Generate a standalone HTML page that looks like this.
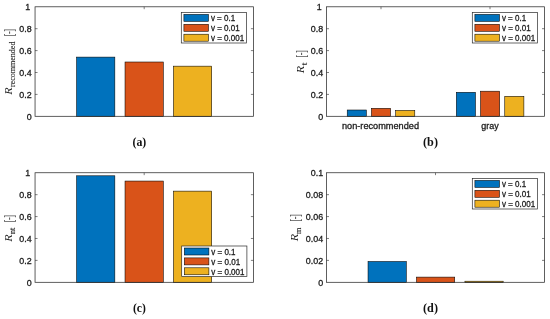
<!DOCTYPE html>
<html><head><meta charset="utf-8"><title>Figure</title>
<style>
html,body{margin:0;padding:0;background:#fff;}
svg{display:block;}
.t{font-family:"Liberation Sans","DejaVu Sans",sans-serif;font-size:8.9px;fill:#1c1c1c;stroke:#1c1c1c;stroke-width:0.3px;}
.cap{font-family:"Liberation Serif","DejaVu Serif",serif;font-weight:bold;font-size:11.6px;fill:#111;}
.ri{font-family:"Liberation Serif","DejaVu Serif",serif;font-style:italic;font-size:11.2px;fill:#222;}
.sub{font-family:"Liberation Serif","DejaVu Serif",serif;font-size:8px;fill:#222;stroke:#222;stroke-width:0.12px;}
.br{font-family:"Liberation Sans","DejaVu Sans",sans-serif;font-size:12px;fill:#555;}
</style></head>
<body>
<svg width="550" height="319" viewBox="0 0 550 319">
<rect width="550" height="319" fill="#fff"/>
<path d="M144.2 116.3v-2.4" stroke="#2a2a2a" stroke-width="0.6" fill="none"/>
<rect x="76.58" y="57.10" width="38.26" height="59.20" fill="#0072BD" stroke="#000" stroke-width="0.55"/>
<rect x="125.02" y="62.00" width="38.26" height="54.30" fill="#D95319" stroke="#000" stroke-width="0.55"/>
<rect x="173.46" y="66.15" width="38.26" height="50.15" fill="#EDB120" stroke="#000" stroke-width="0.55"/>
<rect x="35.05" y="6.8" width="218.35" height="109.50" fill="none" stroke="#2a2a2a" stroke-width="0.75"/>
<text x="31.65" y="119.55" text-anchor="end" class="t">0</text>
<path d="M35.05 94.40h2.5M253.4 94.40h-2.5" stroke="#2a2a2a" stroke-width="0.6" fill="none"/>
<text x="31.65" y="97.65" text-anchor="end" class="t">0.2</text>
<path d="M35.05 72.50h2.5M253.4 72.50h-2.5" stroke="#2a2a2a" stroke-width="0.6" fill="none"/>
<text x="31.65" y="75.75" text-anchor="end" class="t">0.4</text>
<path d="M35.05 50.60h2.5M253.4 50.60h-2.5" stroke="#2a2a2a" stroke-width="0.6" fill="none"/>
<text x="31.65" y="53.85" text-anchor="end" class="t">0.6</text>
<path d="M35.05 28.70h2.5M253.4 28.70h-2.5" stroke="#2a2a2a" stroke-width="0.6" fill="none"/>
<text x="31.65" y="31.95" text-anchor="end" class="t">0.8</text>
<text x="30.15" y="10.05" text-anchor="end" class="t">1</text>
<path d="M144.2 6.8v2.4" stroke="#2a2a2a" stroke-width="0.6" fill="none"/>
<rect x="181.3" y="12.4" width="65.2" height="30.6" fill="#fff" stroke="#2a2a2a" stroke-width="0.7"/>
<rect x="183.9" y="14.40" width="24.6" height="7" fill="#0072BD" stroke="#000" stroke-width="0.55"/>
<text x="210.9" y="21.10" class="t" textLength="24.2" lengthAdjust="spacingAndGlyphs">v = 0.1</text>
<rect x="183.9" y="24.30" width="24.6" height="7" fill="#D95319" stroke="#000" stroke-width="0.55"/>
<text x="210.9" y="31.00" class="t" textLength="28.8" lengthAdjust="spacingAndGlyphs">v = 0.01</text>
<rect x="183.9" y="34.20" width="24.6" height="7" fill="#EDB120" stroke="#000" stroke-width="0.55"/>
<text x="210.9" y="40.90" class="t" textLength="33.2" lengthAdjust="spacingAndGlyphs">v = 0.001</text>
<g transform="translate(12.2 94.4) rotate(-90)"><text x="-0.3" y="0" class="ri" textLength="7.4" lengthAdjust="spacingAndGlyphs">R</text><text x="7.3" y="2.9" class="sub" textLength="45.50" lengthAdjust="spacingAndGlyphs">recommended</text><text x="58.2" y="1.0" class="br" textLength="7.4" lengthAdjust="spacingAndGlyphs">[-]</text></g>
<path d="M381.0 116.3v-2.4" stroke="#2a2a2a" stroke-width="0.6" fill="none"/>
<path d="M490.0 116.3v-2.4" stroke="#2a2a2a" stroke-width="0.6" fill="none"/>
<rect x="347.22" y="110.00" width="19.13" height="6.30" fill="#0072BD" stroke="#000" stroke-width="0.55"/>
<rect x="371.44" y="108.30" width="19.13" height="8.00" fill="#D95319" stroke="#000" stroke-width="0.55"/>
<rect x="395.66" y="110.40" width="19.13" height="5.90" fill="#EDB120" stroke="#000" stroke-width="0.55"/>
<rect x="456.32" y="92.30" width="19.13" height="24.00" fill="#0072BD" stroke="#000" stroke-width="0.55"/>
<rect x="480.54" y="91.20" width="19.13" height="25.10" fill="#D95319" stroke="#000" stroke-width="0.55"/>
<rect x="504.76" y="96.30" width="19.13" height="20.00" fill="#EDB120" stroke="#000" stroke-width="0.55"/>
<rect x="326.5" y="6.8" width="218.00" height="109.50" fill="none" stroke="#2a2a2a" stroke-width="0.75"/>
<text x="323.10" y="119.55" text-anchor="end" class="t">0</text>
<path d="M326.5 94.40h2.5M544.5 94.40h-2.5" stroke="#2a2a2a" stroke-width="0.6" fill="none"/>
<text x="323.10" y="97.65" text-anchor="end" class="t">0.2</text>
<path d="M326.5 72.50h2.5M544.5 72.50h-2.5" stroke="#2a2a2a" stroke-width="0.6" fill="none"/>
<text x="323.10" y="75.75" text-anchor="end" class="t">0.4</text>
<path d="M326.5 50.60h2.5M544.5 50.60h-2.5" stroke="#2a2a2a" stroke-width="0.6" fill="none"/>
<text x="323.10" y="53.85" text-anchor="end" class="t">0.6</text>
<path d="M326.5 28.70h2.5M544.5 28.70h-2.5" stroke="#2a2a2a" stroke-width="0.6" fill="none"/>
<text x="323.10" y="31.95" text-anchor="end" class="t">0.8</text>
<text x="321.60" y="10.05" text-anchor="end" class="t">1</text>
<path d="M381.0 6.8v2.4" stroke="#2a2a2a" stroke-width="0.6" fill="none"/>
<path d="M490.0 6.8v2.4" stroke="#2a2a2a" stroke-width="0.6" fill="none"/>
<text x="380.5" y="128.75" text-anchor="middle" class="t" textLength="77" lengthAdjust="spacingAndGlyphs">non-recommended</text>
<text x="490" y="128.75" text-anchor="middle" class="t" textLength="17.4" lengthAdjust="spacingAndGlyphs">gray</text>
<rect x="472.3" y="12.4" width="65.2" height="30.6" fill="#fff" stroke="#2a2a2a" stroke-width="0.7"/>
<rect x="474.90000000000003" y="14.40" width="24.6" height="7" fill="#0072BD" stroke="#000" stroke-width="0.55"/>
<text x="501.90000000000003" y="21.10" class="t" textLength="24.2" lengthAdjust="spacingAndGlyphs">v = 0.1</text>
<rect x="474.90000000000003" y="24.30" width="24.6" height="7" fill="#D95319" stroke="#000" stroke-width="0.55"/>
<text x="501.90000000000003" y="31.00" class="t" textLength="28.8" lengthAdjust="spacingAndGlyphs">v = 0.01</text>
<rect x="474.90000000000003" y="34.20" width="24.6" height="7" fill="#EDB120" stroke="#000" stroke-width="0.55"/>
<text x="501.90000000000003" y="40.90" class="t" textLength="33.2" lengthAdjust="spacingAndGlyphs">v = 0.001</text>
<g transform="translate(303.7 72.9) rotate(-90)"><text x="-0.3" y="0" class="ri" textLength="7.4" lengthAdjust="spacingAndGlyphs">R</text><text x="7.4" y="2.9" class="sub" textLength="2.90" lengthAdjust="spacingAndGlyphs">t</text><text x="15.3" y="1.0" class="br" textLength="7.4" lengthAdjust="spacingAndGlyphs">[-]</text></g>
<path d="M144.2 282.3v-2.4" stroke="#2a2a2a" stroke-width="0.6" fill="none"/>
<rect x="76.58" y="175.80" width="38.26" height="106.50" fill="#0072BD" stroke="#000" stroke-width="0.55"/>
<rect x="125.02" y="181.05" width="38.26" height="101.25" fill="#D95319" stroke="#000" stroke-width="0.55"/>
<rect x="173.46" y="191.12" width="38.26" height="91.18" fill="#EDB120" stroke="#000" stroke-width="0.55"/>
<rect x="35.05" y="172.75" width="218.35" height="109.55" fill="none" stroke="#2a2a2a" stroke-width="0.75"/>
<text x="31.65" y="285.55" text-anchor="end" class="t">0</text>
<path d="M35.05 260.39h2.5M253.4 260.39h-2.5" stroke="#2a2a2a" stroke-width="0.6" fill="none"/>
<text x="31.65" y="263.64" text-anchor="end" class="t">0.2</text>
<path d="M35.05 238.48h2.5M253.4 238.48h-2.5" stroke="#2a2a2a" stroke-width="0.6" fill="none"/>
<text x="31.65" y="241.73" text-anchor="end" class="t">0.4</text>
<path d="M35.05 216.57h2.5M253.4 216.57h-2.5" stroke="#2a2a2a" stroke-width="0.6" fill="none"/>
<text x="31.65" y="219.82" text-anchor="end" class="t">0.6</text>
<path d="M35.05 194.66h2.5M253.4 194.66h-2.5" stroke="#2a2a2a" stroke-width="0.6" fill="none"/>
<text x="31.65" y="197.91" text-anchor="end" class="t">0.8</text>
<text x="30.15" y="176.00" text-anchor="end" class="t">1</text>
<path d="M144.2 172.75v2.4" stroke="#2a2a2a" stroke-width="0.6" fill="none"/>
<rect x="181.7" y="246.0" width="65.2" height="30.6" fill="#fff" stroke="#2a2a2a" stroke-width="0.7"/>
<rect x="184.29999999999998" y="248.00" width="24.6" height="7" fill="#0072BD" stroke="#000" stroke-width="0.55"/>
<text x="211.29999999999998" y="254.70" class="t" textLength="24.2" lengthAdjust="spacingAndGlyphs">v = 0.1</text>
<rect x="184.29999999999998" y="257.90" width="24.6" height="7" fill="#D95319" stroke="#000" stroke-width="0.55"/>
<text x="211.29999999999998" y="264.60" class="t" textLength="28.8" lengthAdjust="spacingAndGlyphs">v = 0.01</text>
<rect x="184.29999999999998" y="267.80" width="24.6" height="7" fill="#EDB120" stroke="#000" stroke-width="0.55"/>
<text x="211.29999999999998" y="274.50" class="t" textLength="33.2" lengthAdjust="spacingAndGlyphs">v = 0.001</text>
<g transform="translate(12.4 241.4) rotate(-90)"><text x="-0.3" y="0" class="ri" textLength="7.4" lengthAdjust="spacingAndGlyphs">R</text><text x="7.1" y="2.9" class="sub" textLength="6.70" lengthAdjust="spacingAndGlyphs">nt</text><text x="19.2" y="1.0" class="br" textLength="7.4" lengthAdjust="spacingAndGlyphs">[-]</text></g>
<path d="M435.5 282.3v-2.4" stroke="#2a2a2a" stroke-width="0.6" fill="none"/>
<rect x="368.03" y="261.50" width="38.26" height="20.80" fill="#0072BD" stroke="#000" stroke-width="0.55"/>
<rect x="416.47" y="277.10" width="38.26" height="5.20" fill="#D95319" stroke="#000" stroke-width="0.55"/>
<rect x="464.91" y="281.20" width="38.26" height="1.10" fill="#EDB120" stroke="#000" stroke-width="0.55"/>
<rect x="326.5" y="172.75" width="218.00" height="109.55" fill="none" stroke="#2a2a2a" stroke-width="0.75"/>
<text x="323.10" y="285.55" text-anchor="end" class="t">0</text>
<path d="M326.5 260.39h2.5M544.5 260.39h-2.5" stroke="#2a2a2a" stroke-width="0.6" fill="none"/>
<text x="323.10" y="263.64" text-anchor="end" class="t">0.02</text>
<path d="M326.5 238.48h2.5M544.5 238.48h-2.5" stroke="#2a2a2a" stroke-width="0.6" fill="none"/>
<text x="323.10" y="241.73" text-anchor="end" class="t">0.04</text>
<path d="M326.5 216.57h2.5M544.5 216.57h-2.5" stroke="#2a2a2a" stroke-width="0.6" fill="none"/>
<text x="323.10" y="219.82" text-anchor="end" class="t">0.06</text>
<path d="M326.5 194.66h2.5M544.5 194.66h-2.5" stroke="#2a2a2a" stroke-width="0.6" fill="none"/>
<text x="323.10" y="197.91" text-anchor="end" class="t">0.08</text>
<text x="323.10" y="176.00" text-anchor="end" class="t">0.1</text>
<path d="M435.5 172.75v2.4" stroke="#2a2a2a" stroke-width="0.6" fill="none"/>
<rect x="472.3" y="178.4" width="65.2" height="30.6" fill="#fff" stroke="#2a2a2a" stroke-width="0.7"/>
<rect x="474.90000000000003" y="180.40" width="24.6" height="7" fill="#0072BD" stroke="#000" stroke-width="0.55"/>
<text x="501.90000000000003" y="187.10" class="t" textLength="24.2" lengthAdjust="spacingAndGlyphs">v = 0.1</text>
<rect x="474.90000000000003" y="190.30" width="24.6" height="7" fill="#D95319" stroke="#000" stroke-width="0.55"/>
<text x="501.90000000000003" y="197.00" class="t" textLength="28.8" lengthAdjust="spacingAndGlyphs">v = 0.01</text>
<rect x="474.90000000000003" y="200.20" width="24.6" height="7" fill="#EDB120" stroke="#000" stroke-width="0.55"/>
<text x="501.90000000000003" y="206.90" class="t" textLength="33.2" lengthAdjust="spacingAndGlyphs">v = 0.001</text>
<g transform="translate(298.4 241.0) rotate(-90)"><text x="-0.3" y="0" class="ri" textLength="7.4" lengthAdjust="spacingAndGlyphs">R</text><text x="7.1" y="2.9" class="sub" textLength="6.30" lengthAdjust="spacingAndGlyphs">m</text><text x="19.4" y="1.0" class="br" textLength="7.4" lengthAdjust="spacingAndGlyphs">[-]</text></g>
<text x="139.4" y="145.6" text-anchor="middle" class="cap" textLength="13.8" lengthAdjust="spacingAndGlyphs">(a)</text>
<text x="430.5" y="145.6" text-anchor="middle" class="cap" textLength="14.9" lengthAdjust="spacingAndGlyphs">(b)</text>
<text x="139.4" y="311.6" text-anchor="middle" class="cap" textLength="12.9" lengthAdjust="spacingAndGlyphs">(c)</text>
<text x="430.5" y="311.6" text-anchor="middle" class="cap" textLength="14.9" lengthAdjust="spacingAndGlyphs">(d)</text>
</svg>
</body></html>
